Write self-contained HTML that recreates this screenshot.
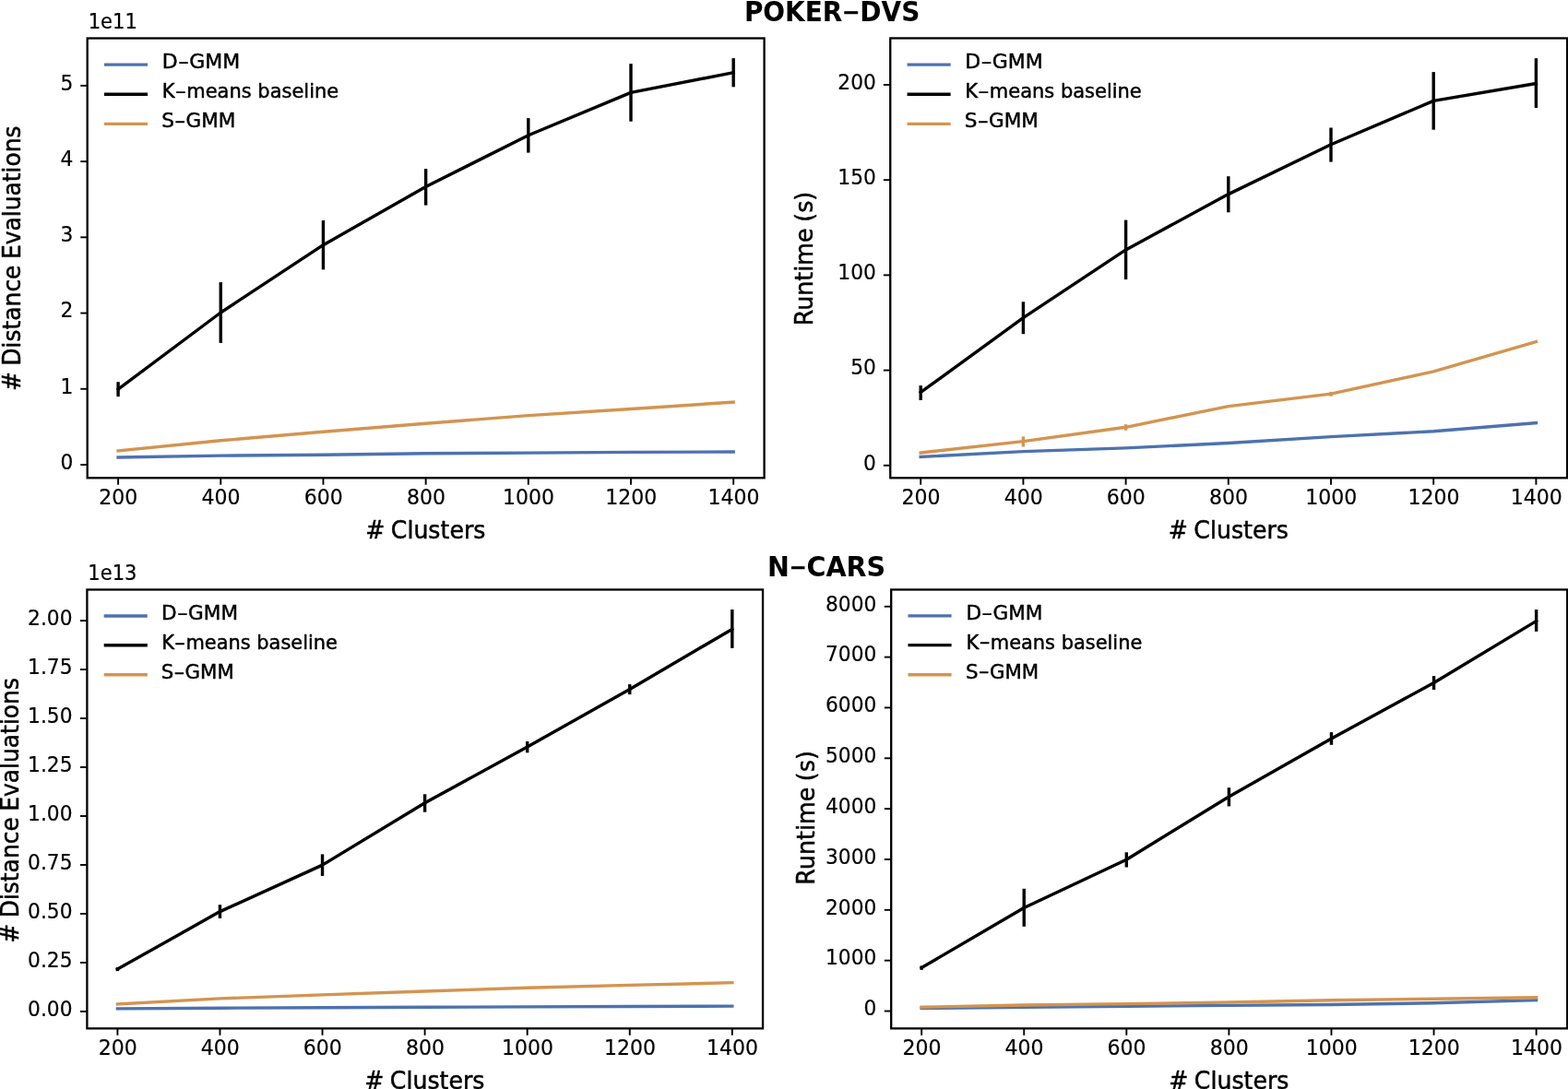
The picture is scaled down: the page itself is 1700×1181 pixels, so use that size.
<!DOCTYPE html>
<html lang="en"><head><meta charset="utf-8"><title>POKER-DVS / N-CARS: distance evaluations and runtime vs. clusters</title>
<style>html,body{margin:0;padding:0;background:#fff;}body{width:1700px;height:1181px;overflow:hidden;}svg{display:block;}text{font-family:'DejaVu Sans', 'Liberation Sans', sans-serif;fill:#000;}</style></head><body>
<svg width="1700" height="1181" viewBox="0 0 1700 1181">
<rect x="0" y="0" width="1700" height="1181" fill="#ffffff"/>
<text transform="translate(902.07 22.9) scale(0.9013 1)" font-size="31" text-anchor="middle" font-weight="bold">POKER<tspan dy="-1" textLength="21.08" lengthAdjust="spacingAndGlyphs" font-weight="normal" stroke="#000" stroke-width="0.65">-</tspan><tspan dy="1">DVS</tspan></text>
<text transform="translate(896.11 625.1) scale(0.9217 1)" font-size="31" text-anchor="middle" font-weight="bold">N<tspan dy="-0.9" textLength="20.07" lengthAdjust="spacingAndGlyphs" font-weight="normal" stroke="#000" stroke-width="0.65">-</tspan><tspan dy="0.9">CARS</tspan></text>
<g>
<polyline points="128.1,496 239.28,494.1 350.46,493.3 461.64,491.8 572.82,491.1 684,490.4 795.18,490" fill="none" stroke="#4d72ae" stroke-width="3.4" stroke-linecap="square" stroke-linejoin="round"/>
<polyline points="128.1,422.1 239.28,339 350.46,265.7 461.64,202.5 572.82,146.8 684,100.4 795.18,78.7" fill="none" stroke="#000000" stroke-width="3.4" stroke-linecap="square" stroke-linejoin="round"/>
<line x1="128.1" y1="414.2" x2="128.1" y2="430.1" stroke="#000000" stroke-width="3.4"/>
<line x1="239.28" y1="306.1" x2="239.28" y2="371.9" stroke="#000000" stroke-width="3.4"/>
<line x1="350.46" y1="239" x2="350.46" y2="292.4" stroke="#000000" stroke-width="3.4"/>
<line x1="461.64" y1="183.1" x2="461.64" y2="222.6" stroke="#000000" stroke-width="3.4"/>
<line x1="572.82" y1="128.1" x2="572.82" y2="165.6" stroke="#000000" stroke-width="3.4"/>
<line x1="684" y1="69.1" x2="684" y2="131.7" stroke="#000000" stroke-width="3.4"/>
<line x1="795.18" y1="63.1" x2="795.18" y2="94.3" stroke="#000000" stroke-width="3.4"/>
<polyline points="128.1,489 239.28,477.8 350.46,468.3 461.64,459.2 572.82,450.6 684,443.5 795.18,436.1" fill="none" stroke="#d39450" stroke-width="3.4" stroke-linecap="square" stroke-linejoin="round"/>
<line x1="128.1" y1="518.3" x2="128.1" y2="525.7" stroke="#000" stroke-width="1.9"/>
<text transform="translate(128.37 546.6) scale(0.9742 1)" font-size="22.6" text-anchor="middle" stroke="#000" stroke-width="0.2" stroke-linejoin="round">200</text>
<line x1="239.28" y1="518.3" x2="239.28" y2="525.7" stroke="#000" stroke-width="1.9"/>
<text transform="translate(239.55 546.6) scale(0.9742 1)" font-size="22.6" text-anchor="middle" stroke="#000" stroke-width="0.2" stroke-linejoin="round">400</text>
<line x1="350.46" y1="518.3" x2="350.46" y2="525.7" stroke="#000" stroke-width="1.9"/>
<text transform="translate(350.73 546.6) scale(0.9742 1)" font-size="22.6" text-anchor="middle" stroke="#000" stroke-width="0.2" stroke-linejoin="round">600</text>
<line x1="461.64" y1="518.3" x2="461.64" y2="525.7" stroke="#000" stroke-width="1.9"/>
<text transform="translate(461.91 546.6) scale(0.9742 1)" font-size="22.6" text-anchor="middle" stroke="#000" stroke-width="0.2" stroke-linejoin="round">800</text>
<line x1="572.82" y1="518.3" x2="572.82" y2="525.7" stroke="#000" stroke-width="1.9"/>
<text transform="translate(573.09 546.6) scale(0.9742 1)" font-size="22.6" text-anchor="middle" stroke="#000" stroke-width="0.2" stroke-linejoin="round">1000</text>
<line x1="684" y1="518.3" x2="684" y2="525.7" stroke="#000" stroke-width="1.9"/>
<text transform="translate(684.27 546.6) scale(0.9742 1)" font-size="22.6" text-anchor="middle" stroke="#000" stroke-width="0.2" stroke-linejoin="round">1200</text>
<line x1="795.18" y1="518.3" x2="795.18" y2="525.7" stroke="#000" stroke-width="1.9"/>
<text transform="translate(795.45 546.6) scale(0.9742 1)" font-size="22.6" text-anchor="middle" stroke="#000" stroke-width="0.2" stroke-linejoin="round">1400</text>
<line x1="87.3" y1="504" x2="94.7" y2="504" stroke="#000" stroke-width="1.9"/>
<text transform="translate(79.29 508.8) scale(0.9627 1)" font-size="22.6" text-anchor="end" stroke="#000" stroke-width="0.2" stroke-linejoin="round">0</text>
<line x1="87.3" y1="421.78" x2="94.7" y2="421.78" stroke="#000" stroke-width="1.9"/>
<text transform="translate(79.29 426.58) scale(0.9627 1)" font-size="22.6" text-anchor="end" stroke="#000" stroke-width="0.2" stroke-linejoin="round">1</text>
<line x1="87.3" y1="339.56" x2="94.7" y2="339.56" stroke="#000" stroke-width="1.9"/>
<text transform="translate(79.29 344.36) scale(0.9627 1)" font-size="22.6" text-anchor="end" stroke="#000" stroke-width="0.2" stroke-linejoin="round">2</text>
<line x1="87.3" y1="257.34" x2="94.7" y2="257.34" stroke="#000" stroke-width="1.9"/>
<text transform="translate(79.29 262.14) scale(0.9627 1)" font-size="22.6" text-anchor="end" stroke="#000" stroke-width="0.2" stroke-linejoin="round">3</text>
<line x1="87.3" y1="175.12" x2="94.7" y2="175.12" stroke="#000" stroke-width="1.9"/>
<text transform="translate(79.29 179.92) scale(0.9627 1)" font-size="22.6" text-anchor="end" stroke="#000" stroke-width="0.2" stroke-linejoin="round">4</text>
<line x1="87.3" y1="92.9" x2="94.7" y2="92.9" stroke="#000" stroke-width="1.9"/>
<text transform="translate(79.29 97.7) scale(0.9627 1)" font-size="22.6" text-anchor="end" stroke="#000" stroke-width="0.2" stroke-linejoin="round">5</text>
<rect x="94.7" y="41.5" width="733.9" height="476.8" fill="none" stroke="#000" stroke-width="2.3"/>
<text transform="translate(95.65 31.1) scale(0.9324 1)" font-size="22.6" text-anchor="start" stroke="#000" stroke-width="0.2" stroke-linejoin="round">1e11</text>
<text transform="translate(461.25 583.6) scale(0.9735 1)" font-size="25.9" text-anchor="middle" stroke="#000" stroke-width="0.5" stroke-linejoin="round" word-spacing="-1.5"># Clusters</text>
<text transform="translate(21.8 280.2) rotate(-90) scale(0.964 1)" font-size="25.9" text-anchor="middle" stroke="#000" stroke-width="0.5" stroke-linejoin="round" word-spacing="-1.5"># Distance Evaluations</text>
<line x1="113" y1="70.1" x2="160.1" y2="70.1" stroke="#4d72ae" stroke-width="3.4"/>
<text transform="translate(175.73 73.8) scale(1.0674 1)" font-size="20.6" text-anchor="start" stroke="#000" stroke-width="0.45" stroke-linejoin="round">D<tspan dy="-0.2" textLength="11.8" lengthAdjust="spacingAndGlyphs" stroke="#000" stroke-width="0.25">-</tspan><tspan dy="0.2">GMM</tspan></text>
<line x1="113" y1="102.2" x2="160.1" y2="102.2" stroke="#000000" stroke-width="3.4"/>
<text transform="translate(175.69 105.9) scale(1.0191 1)" font-size="20.6" text-anchor="start" stroke="#000" stroke-width="0.45" stroke-linejoin="round">K<tspan dy="-0.2" textLength="12.56" lengthAdjust="spacingAndGlyphs" stroke="#000" stroke-width="0.25">-</tspan><tspan dy="0.2">means baseline</tspan></text>
<line x1="113" y1="134.4" x2="160.1" y2="134.4" stroke="#d39450" stroke-width="3.4"/>
<text transform="translate(175.22 138.1) scale(1.0462 1)" font-size="20.6" text-anchor="start" stroke="#000" stroke-width="0.45" stroke-linejoin="round">S<tspan dy="-0.2" textLength="12.04" lengthAdjust="spacingAndGlyphs" stroke="#000" stroke-width="0.25">-</tspan><tspan dy="0.2">GMM</tspan></text>
</g>
<g>
<polyline points="998.2,495.4 1109.4,489.6 1220.6,485.9 1331.8,480.5 1443,473.6 1554.2,467.8 1665.4,458.6" fill="none" stroke="#4d72ae" stroke-width="3.4" stroke-linecap="square" stroke-linejoin="round"/>
<polyline points="998.2,425.5 1109.4,344.7 1220.6,270.9 1331.8,210.6 1443,156.8 1554.2,109.4 1665.4,90.5" fill="none" stroke="#000000" stroke-width="3.4" stroke-linecap="square" stroke-linejoin="round"/>
<line x1="998.2" y1="418.1" x2="998.2" y2="434" stroke="#000000" stroke-width="3.4"/>
<line x1="1109.4" y1="327.3" x2="1109.4" y2="362.2" stroke="#000000" stroke-width="3.4"/>
<line x1="1220.6" y1="238.6" x2="1220.6" y2="303.1" stroke="#000000" stroke-width="3.4"/>
<line x1="1331.8" y1="191.2" x2="1331.8" y2="230.3" stroke="#000000" stroke-width="3.4"/>
<line x1="1443" y1="138.5" x2="1443" y2="175.6" stroke="#000000" stroke-width="3.4"/>
<line x1="1554.2" y1="78.1" x2="1554.2" y2="140.7" stroke="#000000" stroke-width="3.4"/>
<line x1="1665.4" y1="63.2" x2="1665.4" y2="117" stroke="#000000" stroke-width="3.4"/>
<polyline points="998.2,491 1109.4,478.6 1220.6,463.3 1331.8,440.6 1443,427.1 1554.2,402.8 1665.4,370.6" fill="none" stroke="#d39450" stroke-width="3.4" stroke-linecap="square" stroke-linejoin="round"/>
<line x1="1109.4" y1="473.4" x2="1109.4" y2="484.5" stroke="#d39450" stroke-width="3.4"/>
<line x1="1220.6" y1="460.2" x2="1220.6" y2="466.8" stroke="#d39450" stroke-width="3.4"/>
<line x1="1443" y1="424.9" x2="1443" y2="429.8" stroke="#d39450" stroke-width="3.4"/>
<line x1="998.2" y1="518.3" x2="998.2" y2="525.7" stroke="#000" stroke-width="1.9"/>
<text transform="translate(998.47 546.6) scale(0.9742 1)" font-size="22.6" text-anchor="middle" stroke="#000" stroke-width="0.2" stroke-linejoin="round">200</text>
<line x1="1109.4" y1="518.3" x2="1109.4" y2="525.7" stroke="#000" stroke-width="1.9"/>
<text transform="translate(1109.67 546.6) scale(0.9742 1)" font-size="22.6" text-anchor="middle" stroke="#000" stroke-width="0.2" stroke-linejoin="round">400</text>
<line x1="1220.6" y1="518.3" x2="1220.6" y2="525.7" stroke="#000" stroke-width="1.9"/>
<text transform="translate(1220.87 546.6) scale(0.9742 1)" font-size="22.6" text-anchor="middle" stroke="#000" stroke-width="0.2" stroke-linejoin="round">600</text>
<line x1="1331.8" y1="518.3" x2="1331.8" y2="525.7" stroke="#000" stroke-width="1.9"/>
<text transform="translate(1332.07 546.6) scale(0.9742 1)" font-size="22.6" text-anchor="middle" stroke="#000" stroke-width="0.2" stroke-linejoin="round">800</text>
<line x1="1443" y1="518.3" x2="1443" y2="525.7" stroke="#000" stroke-width="1.9"/>
<text transform="translate(1443.27 546.6) scale(0.9742 1)" font-size="22.6" text-anchor="middle" stroke="#000" stroke-width="0.2" stroke-linejoin="round">1000</text>
<line x1="1554.2" y1="518.3" x2="1554.2" y2="525.7" stroke="#000" stroke-width="1.9"/>
<text transform="translate(1554.47 546.6) scale(0.9742 1)" font-size="22.6" text-anchor="middle" stroke="#000" stroke-width="0.2" stroke-linejoin="round">1200</text>
<line x1="1665.4" y1="518.3" x2="1665.4" y2="525.7" stroke="#000" stroke-width="1.9"/>
<text transform="translate(1665.67 546.6) scale(0.9742 1)" font-size="22.6" text-anchor="middle" stroke="#000" stroke-width="0.2" stroke-linejoin="round">1400</text>
<line x1="957.85" y1="504.75" x2="965.25" y2="504.75" stroke="#000" stroke-width="1.9"/>
<text transform="translate(949.84 509.55) scale(0.9627 1)" font-size="22.6" text-anchor="end" stroke="#000" stroke-width="0.2" stroke-linejoin="round">0</text>
<line x1="957.85" y1="401.56" x2="965.25" y2="401.56" stroke="#000" stroke-width="1.9"/>
<text transform="translate(949.84 406.36) scale(0.9627 1)" font-size="22.6" text-anchor="end" stroke="#000" stroke-width="0.2" stroke-linejoin="round">50</text>
<line x1="957.85" y1="298.37" x2="965.25" y2="298.37" stroke="#000" stroke-width="1.9"/>
<text transform="translate(949.84 303.17) scale(0.9627 1)" font-size="22.6" text-anchor="end" stroke="#000" stroke-width="0.2" stroke-linejoin="round">100</text>
<line x1="957.85" y1="195.18" x2="965.25" y2="195.18" stroke="#000" stroke-width="1.9"/>
<text transform="translate(949.84 199.98) scale(0.9627 1)" font-size="22.6" text-anchor="end" stroke="#000" stroke-width="0.2" stroke-linejoin="round">150</text>
<line x1="957.85" y1="91.99" x2="965.25" y2="91.99" stroke="#000" stroke-width="1.9"/>
<text transform="translate(949.84 96.79) scale(0.9627 1)" font-size="22.6" text-anchor="end" stroke="#000" stroke-width="0.2" stroke-linejoin="round">200</text>
<rect x="965.25" y="41.45" width="733.85" height="476.85" fill="none" stroke="#000" stroke-width="2.3"/>
<text transform="translate(1331.78 583.6) scale(0.9735 1)" font-size="25.9" text-anchor="middle" stroke="#000" stroke-width="0.5" stroke-linejoin="round" word-spacing="-1.5"># Clusters</text>
<text transform="translate(880.9 280.5) rotate(-90) scale(0.9798 1)" font-size="25.9" text-anchor="middle" stroke="#000" stroke-width="0.5" stroke-linejoin="round" word-spacing="-1.5">Runtime (s)</text>
<line x1="983.55" y1="70.1" x2="1030.65" y2="70.1" stroke="#4d72ae" stroke-width="3.4"/>
<text transform="translate(1046.28 73.8) scale(1.0674 1)" font-size="20.6" text-anchor="start" stroke="#000" stroke-width="0.45" stroke-linejoin="round">D<tspan dy="-0.2" textLength="11.8" lengthAdjust="spacingAndGlyphs" stroke="#000" stroke-width="0.25">-</tspan><tspan dy="0.2">GMM</tspan></text>
<line x1="983.55" y1="102.2" x2="1030.65" y2="102.2" stroke="#000000" stroke-width="3.4"/>
<text transform="translate(1046.24 105.9) scale(1.0191 1)" font-size="20.6" text-anchor="start" stroke="#000" stroke-width="0.45" stroke-linejoin="round">K<tspan dy="-0.2" textLength="12.56" lengthAdjust="spacingAndGlyphs" stroke="#000" stroke-width="0.25">-</tspan><tspan dy="0.2">means baseline</tspan></text>
<line x1="983.55" y1="134.4" x2="1030.65" y2="134.4" stroke="#d39450" stroke-width="3.4"/>
<text transform="translate(1045.77 138.1) scale(1.0462 1)" font-size="20.6" text-anchor="start" stroke="#000" stroke-width="0.45" stroke-linejoin="round">S<tspan dy="-0.2" textLength="12.04" lengthAdjust="spacingAndGlyphs" stroke="#000" stroke-width="0.25">-</tspan><tspan dy="0.2">GMM</tspan></text>
</g>
<g>
<polyline points="127.4,1093.85 238.47,1093.2 349.54,1092.75 460.61,1092.3 571.68,1091.85 682.75,1091.5 793.82,1091.1" fill="none" stroke="#4d72ae" stroke-width="3.4" stroke-linecap="square" stroke-linejoin="round"/>
<polyline points="127.4,1051.05 238.47,988.6 349.54,938.1 460.61,870.8 571.68,810 682.75,747.5 793.82,682.3" fill="none" stroke="#000000" stroke-width="3.4" stroke-linecap="square" stroke-linejoin="round"/>
<line x1="127.4" y1="1048.9" x2="127.4" y2="1053.1" stroke="#000000" stroke-width="3.4"/>
<line x1="238.47" y1="981.2" x2="238.47" y2="995.9" stroke="#000000" stroke-width="3.4"/>
<line x1="349.54" y1="926.4" x2="349.54" y2="949.9" stroke="#000000" stroke-width="3.4"/>
<line x1="460.61" y1="861.3" x2="460.61" y2="880.7" stroke="#000000" stroke-width="3.4"/>
<line x1="571.68" y1="804" x2="571.68" y2="816.3" stroke="#000000" stroke-width="3.4"/>
<line x1="682.75" y1="742.1" x2="682.75" y2="753.1" stroke="#000000" stroke-width="3.4"/>
<line x1="793.82" y1="661" x2="793.82" y2="702.9" stroke="#000000" stroke-width="3.4"/>
<polyline points="127.4,1088.95 238.47,1082.9 349.54,1078.9 460.61,1075 571.68,1071.3 682.75,1068.4 793.82,1065.7" fill="none" stroke="#d39450" stroke-width="3.4" stroke-linecap="square" stroke-linejoin="round"/>
<line x1="127.4" y1="1115.35" x2="127.4" y2="1122.75" stroke="#000" stroke-width="1.9"/>
<text transform="translate(127.67 1144) scale(0.9742 1)" font-size="22.6" text-anchor="middle" stroke="#000" stroke-width="0.2" stroke-linejoin="round">200</text>
<line x1="238.47" y1="1115.35" x2="238.47" y2="1122.75" stroke="#000" stroke-width="1.9"/>
<text transform="translate(238.74 1144) scale(0.9742 1)" font-size="22.6" text-anchor="middle" stroke="#000" stroke-width="0.2" stroke-linejoin="round">400</text>
<line x1="349.54" y1="1115.35" x2="349.54" y2="1122.75" stroke="#000" stroke-width="1.9"/>
<text transform="translate(349.81 1144) scale(0.9742 1)" font-size="22.6" text-anchor="middle" stroke="#000" stroke-width="0.2" stroke-linejoin="round">600</text>
<line x1="460.61" y1="1115.35" x2="460.61" y2="1122.75" stroke="#000" stroke-width="1.9"/>
<text transform="translate(460.88 1144) scale(0.9742 1)" font-size="22.6" text-anchor="middle" stroke="#000" stroke-width="0.2" stroke-linejoin="round">800</text>
<line x1="571.68" y1="1115.35" x2="571.68" y2="1122.75" stroke="#000" stroke-width="1.9"/>
<text transform="translate(571.95 1144) scale(0.9742 1)" font-size="22.6" text-anchor="middle" stroke="#000" stroke-width="0.2" stroke-linejoin="round">1000</text>
<line x1="682.75" y1="1115.35" x2="682.75" y2="1122.75" stroke="#000" stroke-width="1.9"/>
<text transform="translate(683.02 1144) scale(0.9742 1)" font-size="22.6" text-anchor="middle" stroke="#000" stroke-width="0.2" stroke-linejoin="round">1200</text>
<line x1="793.82" y1="1115.35" x2="793.82" y2="1122.75" stroke="#000" stroke-width="1.9"/>
<text transform="translate(794.09 1144) scale(0.9742 1)" font-size="22.6" text-anchor="middle" stroke="#000" stroke-width="0.2" stroke-linejoin="round">1400</text>
<line x1="87" y1="1096.9" x2="94.4" y2="1096.9" stroke="#000" stroke-width="1.9"/>
<text transform="translate(78.54 1101.7) scale(0.9627 1)" font-size="22.6" text-anchor="end" stroke="#000" stroke-width="0.2" stroke-linejoin="round">0.00</text>
<line x1="87" y1="1043.93" x2="94.4" y2="1043.93" stroke="#000" stroke-width="1.9"/>
<text transform="translate(78.54 1048.73) scale(0.9627 1)" font-size="22.6" text-anchor="end" stroke="#000" stroke-width="0.2" stroke-linejoin="round">0.25</text>
<line x1="87" y1="990.95" x2="94.4" y2="990.95" stroke="#000" stroke-width="1.9"/>
<text transform="translate(78.54 995.75) scale(0.9627 1)" font-size="22.6" text-anchor="end" stroke="#000" stroke-width="0.2" stroke-linejoin="round">0.50</text>
<line x1="87" y1="937.98" x2="94.4" y2="937.98" stroke="#000" stroke-width="1.9"/>
<text transform="translate(78.54 942.78) scale(0.9627 1)" font-size="22.6" text-anchor="end" stroke="#000" stroke-width="0.2" stroke-linejoin="round">0.75</text>
<line x1="87" y1="885" x2="94.4" y2="885" stroke="#000" stroke-width="1.9"/>
<text transform="translate(78.54 889.8) scale(0.9627 1)" font-size="22.6" text-anchor="end" stroke="#000" stroke-width="0.2" stroke-linejoin="round">1.00</text>
<line x1="87" y1="832.03" x2="94.4" y2="832.03" stroke="#000" stroke-width="1.9"/>
<text transform="translate(78.54 836.83) scale(0.9627 1)" font-size="22.6" text-anchor="end" stroke="#000" stroke-width="0.2" stroke-linejoin="round">1.25</text>
<line x1="87" y1="779.05" x2="94.4" y2="779.05" stroke="#000" stroke-width="1.9"/>
<text transform="translate(78.54 783.85) scale(0.9627 1)" font-size="22.6" text-anchor="end" stroke="#000" stroke-width="0.2" stroke-linejoin="round">1.50</text>
<line x1="87" y1="726.08" x2="94.4" y2="726.08" stroke="#000" stroke-width="1.9"/>
<text transform="translate(78.54 730.88) scale(0.9627 1)" font-size="22.6" text-anchor="end" stroke="#000" stroke-width="0.2" stroke-linejoin="round">1.75</text>
<line x1="87" y1="673.1" x2="94.4" y2="673.1" stroke="#000" stroke-width="1.9"/>
<text transform="translate(78.54 677.9) scale(0.9627 1)" font-size="22.6" text-anchor="end" stroke="#000" stroke-width="0.2" stroke-linejoin="round">2.00</text>
<rect x="94.4" y="639.45" width="732.65" height="475.9" fill="none" stroke="#000" stroke-width="2.3"/>
<text transform="translate(95.35 629.05) scale(0.9324 1)" font-size="22.6" text-anchor="start" stroke="#000" stroke-width="0.2" stroke-linejoin="round">1e13</text>
<text transform="translate(460.32 1180.6) scale(0.9735 1)" font-size="25.9" text-anchor="middle" stroke="#000" stroke-width="0.5" stroke-linejoin="round" word-spacing="-1.5"># Clusters</text>
<text transform="translate(20.3 878.9) rotate(-90) scale(0.964 1)" font-size="25.9" text-anchor="middle" stroke="#000" stroke-width="0.5" stroke-linejoin="round" word-spacing="-1.5"># Distance Evaluations</text>
<line x1="112.7" y1="668" x2="159.8" y2="668" stroke="#4d72ae" stroke-width="3.4"/>
<text transform="translate(175.1 671.95) scale(1.0474 1)" font-size="20.6" text-anchor="start" stroke="#000" stroke-width="0.45" stroke-linejoin="round">D<tspan dy="-0.2" textLength="11.84" lengthAdjust="spacingAndGlyphs" stroke="#000" stroke-width="0.25">-</tspan><tspan dy="0.2">GMM</tspan></text>
<line x1="112.7" y1="699.8" x2="159.8" y2="699.8" stroke="#000000" stroke-width="3.4"/>
<text transform="translate(175.13 703.75) scale(1.0161 1)" font-size="20.6" text-anchor="start" stroke="#000" stroke-width="0.45" stroke-linejoin="round">K<tspan dy="-0.2" textLength="12.4" lengthAdjust="spacingAndGlyphs" stroke="#000" stroke-width="0.25">-</tspan><tspan dy="0.2">means baseline</tspan></text>
<line x1="112.7" y1="731.8" x2="159.8" y2="731.8" stroke="#d39450" stroke-width="3.4"/>
<text transform="translate(174.67 735.75) scale(1.034 1)" font-size="20.6" text-anchor="start" stroke="#000" stroke-width="0.45" stroke-linejoin="round">S<tspan dy="-0.2" textLength="11.99" lengthAdjust="spacingAndGlyphs" stroke="#000" stroke-width="0.25">-</tspan><tspan dy="0.2">GMM</tspan></text>
</g>
<g>
<polyline points="999.15,1093.4 1110.23,1092.2 1221.31,1091.2 1332.39,1090.4 1443.47,1089.5 1554.55,1087.8 1665.63,1084.7" fill="none" stroke="#4d72ae" stroke-width="3.4" stroke-linecap="square" stroke-linejoin="round"/>
<polyline points="999.15,1049.5 1110.23,984.5 1221.31,932.2 1332.39,864 1443.47,800.9 1554.55,740.5 1665.63,673.5" fill="none" stroke="#000000" stroke-width="3.4" stroke-linecap="square" stroke-linejoin="round"/>
<line x1="999.15" y1="1047.4" x2="999.15" y2="1051.8" stroke="#000000" stroke-width="3.4"/>
<line x1="1110.23" y1="963.8" x2="1110.23" y2="1004.8" stroke="#000000" stroke-width="3.4"/>
<line x1="1221.31" y1="924.3" x2="1221.31" y2="940.5" stroke="#000000" stroke-width="3.4"/>
<line x1="1332.39" y1="854.2" x2="1332.39" y2="874.4" stroke="#000000" stroke-width="3.4"/>
<line x1="1443.47" y1="794.1" x2="1443.47" y2="807.8" stroke="#000000" stroke-width="3.4"/>
<line x1="1554.55" y1="733.1" x2="1554.55" y2="748" stroke="#000000" stroke-width="3.4"/>
<line x1="1665.63" y1="661" x2="1665.63" y2="684.85" stroke="#000000" stroke-width="3.4"/>
<polyline points="999.15,1092.2 1110.23,1090 1221.31,1088.6 1332.39,1087 1443.47,1084.8 1554.55,1083.2 1665.63,1081.7" fill="none" stroke="#d39450" stroke-width="3.4" stroke-linecap="square" stroke-linejoin="round"/>
<line x1="999.15" y1="1115.35" x2="999.15" y2="1122.75" stroke="#000" stroke-width="1.9"/>
<text transform="translate(999.42 1144) scale(0.9742 1)" font-size="22.6" text-anchor="middle" stroke="#000" stroke-width="0.2" stroke-linejoin="round">200</text>
<line x1="1110.23" y1="1115.35" x2="1110.23" y2="1122.75" stroke="#000" stroke-width="1.9"/>
<text transform="translate(1110.5 1144) scale(0.9742 1)" font-size="22.6" text-anchor="middle" stroke="#000" stroke-width="0.2" stroke-linejoin="round">400</text>
<line x1="1221.31" y1="1115.35" x2="1221.31" y2="1122.75" stroke="#000" stroke-width="1.9"/>
<text transform="translate(1221.58 1144) scale(0.9742 1)" font-size="22.6" text-anchor="middle" stroke="#000" stroke-width="0.2" stroke-linejoin="round">600</text>
<line x1="1332.39" y1="1115.35" x2="1332.39" y2="1122.75" stroke="#000" stroke-width="1.9"/>
<text transform="translate(1332.66 1144) scale(0.9742 1)" font-size="22.6" text-anchor="middle" stroke="#000" stroke-width="0.2" stroke-linejoin="round">800</text>
<line x1="1443.47" y1="1115.35" x2="1443.47" y2="1122.75" stroke="#000" stroke-width="1.9"/>
<text transform="translate(1443.74 1144) scale(0.9742 1)" font-size="22.6" text-anchor="middle" stroke="#000" stroke-width="0.2" stroke-linejoin="round">1000</text>
<line x1="1554.55" y1="1115.35" x2="1554.55" y2="1122.75" stroke="#000" stroke-width="1.9"/>
<text transform="translate(1554.82 1144) scale(0.9742 1)" font-size="22.6" text-anchor="middle" stroke="#000" stroke-width="0.2" stroke-linejoin="round">1200</text>
<line x1="1665.63" y1="1115.35" x2="1665.63" y2="1122.75" stroke="#000" stroke-width="1.9"/>
<text transform="translate(1665.9 1144) scale(0.9742 1)" font-size="22.6" text-anchor="middle" stroke="#000" stroke-width="0.2" stroke-linejoin="round">1400</text>
<line x1="958.8" y1="1096.5" x2="966.2" y2="1096.5" stroke="#000" stroke-width="1.9"/>
<text transform="translate(950.34 1101.3) scale(0.9627 1)" font-size="22.6" text-anchor="end" stroke="#000" stroke-width="0.2" stroke-linejoin="round">0</text>
<line x1="958.8" y1="1041.66" x2="966.2" y2="1041.66" stroke="#000" stroke-width="1.9"/>
<text transform="translate(950.34 1046.46) scale(0.9627 1)" font-size="22.6" text-anchor="end" stroke="#000" stroke-width="0.2" stroke-linejoin="round">1000</text>
<line x1="958.8" y1="986.82" x2="966.2" y2="986.82" stroke="#000" stroke-width="1.9"/>
<text transform="translate(950.34 991.62) scale(0.9627 1)" font-size="22.6" text-anchor="end" stroke="#000" stroke-width="0.2" stroke-linejoin="round">2000</text>
<line x1="958.8" y1="931.98" x2="966.2" y2="931.98" stroke="#000" stroke-width="1.9"/>
<text transform="translate(950.34 936.78) scale(0.9627 1)" font-size="22.6" text-anchor="end" stroke="#000" stroke-width="0.2" stroke-linejoin="round">3000</text>
<line x1="958.8" y1="877.14" x2="966.2" y2="877.14" stroke="#000" stroke-width="1.9"/>
<text transform="translate(950.34 881.94) scale(0.9627 1)" font-size="22.6" text-anchor="end" stroke="#000" stroke-width="0.2" stroke-linejoin="round">4000</text>
<line x1="958.8" y1="822.3" x2="966.2" y2="822.3" stroke="#000" stroke-width="1.9"/>
<text transform="translate(950.34 827.1) scale(0.9627 1)" font-size="22.6" text-anchor="end" stroke="#000" stroke-width="0.2" stroke-linejoin="round">5000</text>
<line x1="958.8" y1="767.46" x2="966.2" y2="767.46" stroke="#000" stroke-width="1.9"/>
<text transform="translate(950.34 772.26) scale(0.9627 1)" font-size="22.6" text-anchor="end" stroke="#000" stroke-width="0.2" stroke-linejoin="round">6000</text>
<line x1="958.8" y1="712.62" x2="966.2" y2="712.62" stroke="#000" stroke-width="1.9"/>
<text transform="translate(950.34 717.42) scale(0.9627 1)" font-size="22.6" text-anchor="end" stroke="#000" stroke-width="0.2" stroke-linejoin="round">7000</text>
<line x1="958.8" y1="657.78" x2="966.2" y2="657.78" stroke="#000" stroke-width="1.9"/>
<text transform="translate(950.34 662.58) scale(0.9627 1)" font-size="22.6" text-anchor="end" stroke="#000" stroke-width="0.2" stroke-linejoin="round">8000</text>
<rect x="966.2" y="639.45" width="733" height="475.9" fill="none" stroke="#000" stroke-width="2.3"/>
<text transform="translate(1332.3 1180.6) scale(0.9735 1)" font-size="25.9" text-anchor="middle" stroke="#000" stroke-width="0.5" stroke-linejoin="round" word-spacing="-1.5"># Clusters</text>
<text transform="translate(882.9 886.9) rotate(-90) scale(0.9798 1)" font-size="25.9" text-anchor="middle" stroke="#000" stroke-width="0.5" stroke-linejoin="round" word-spacing="-1.5">Runtime (s)</text>
<line x1="984.5" y1="667.9" x2="1031.6" y2="667.9" stroke="#4d72ae" stroke-width="3.4"/>
<text transform="translate(1047.45 671.85) scale(1.0474 1)" font-size="20.6" text-anchor="start" stroke="#000" stroke-width="0.45" stroke-linejoin="round">D<tspan dy="-0.2" textLength="11.84" lengthAdjust="spacingAndGlyphs" stroke="#000" stroke-width="0.25">-</tspan><tspan dy="0.2">GMM</tspan></text>
<line x1="984.5" y1="699.6" x2="1031.6" y2="699.6" stroke="#000000" stroke-width="3.4"/>
<text transform="translate(1047.48 703.55) scale(1.0161 1)" font-size="20.6" text-anchor="start" stroke="#000" stroke-width="0.45" stroke-linejoin="round">K<tspan dy="-0.2" textLength="12.4" lengthAdjust="spacingAndGlyphs" stroke="#000" stroke-width="0.25">-</tspan><tspan dy="0.2">means baseline</tspan></text>
<line x1="984.5" y1="731.7" x2="1031.6" y2="731.7" stroke="#d39450" stroke-width="3.4"/>
<text transform="translate(1047.02 735.65) scale(1.034 1)" font-size="20.6" text-anchor="start" stroke="#000" stroke-width="0.45" stroke-linejoin="round">S<tspan dy="-0.2" textLength="11.99" lengthAdjust="spacingAndGlyphs" stroke="#000" stroke-width="0.25">-</tspan><tspan dy="0.2">GMM</tspan></text>
</g>
</svg>
</body></html>
